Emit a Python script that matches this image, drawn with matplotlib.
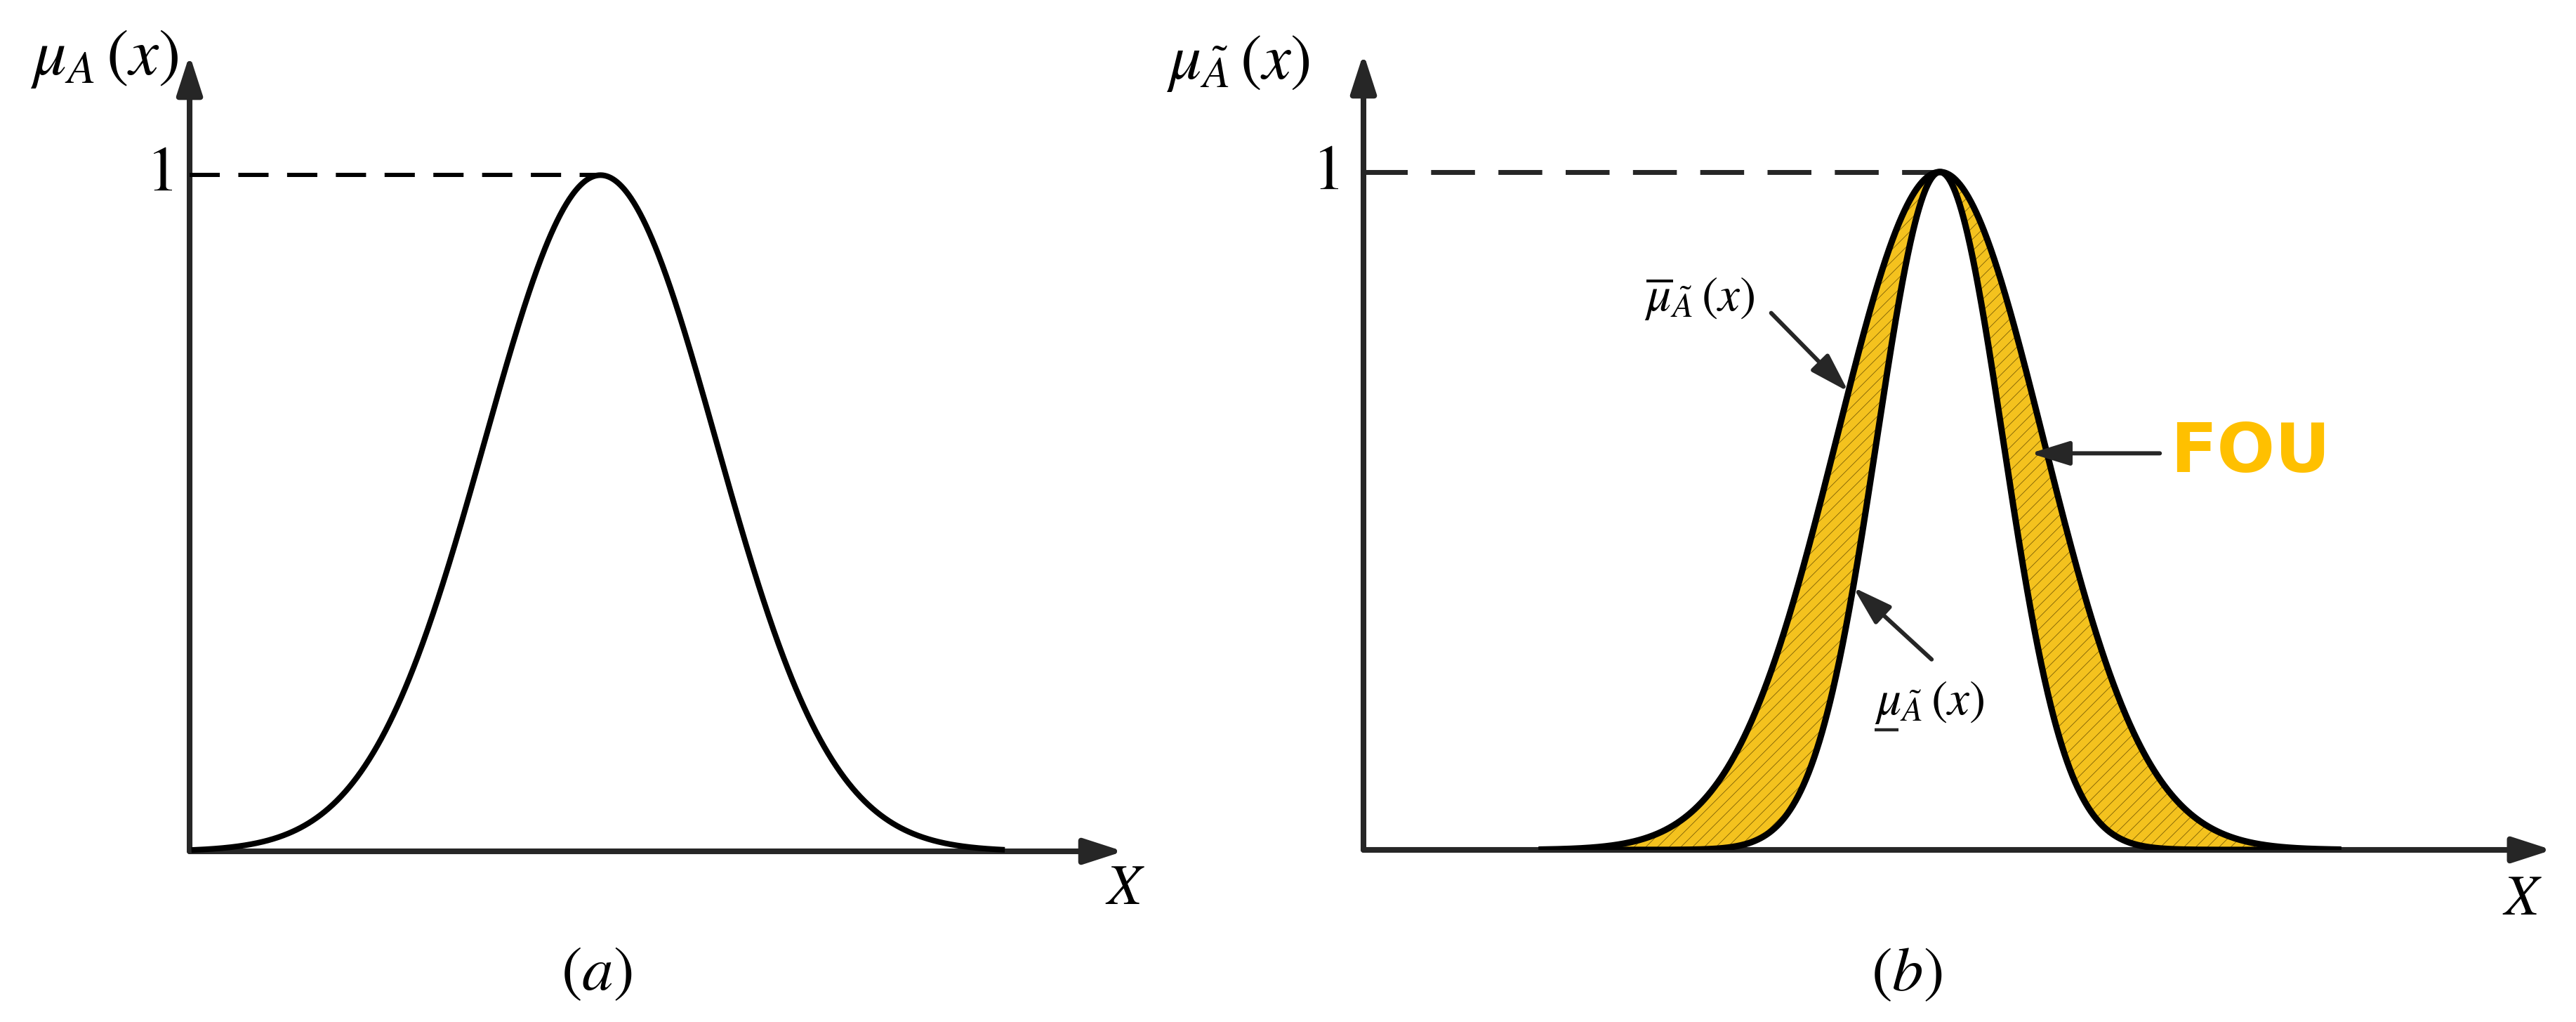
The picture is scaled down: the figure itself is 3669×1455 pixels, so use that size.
import numpy as np
import matplotlib
matplotlib.use('Agg')
import matplotlib.pyplot as plt

plt.rcParams['mathtext.fontset'] = 'stix'
plt.rcParams['font.family'] = ['STIXGeneral', 'DejaVu Sans']
plt.rcParams['lines.scale_dashes'] = False
plt.rcParams['hatch.linewidth'] = 0.6

# ---------------------------------------------------------------
# Gaussian membership functions (x axis 0..10)
# ---------------------------------------------------------------
# (a) type-1 fuzzy set
t1_center = 4.40
t1_sigma = 1.24
t1_range = [0.05, 8.7]

# (b) interval type-2 fuzzy set: upper and lower MF share the centre
t2_center = 4.85
t2_sigma_upper = 0.87
t2_sigma_lower = 0.53
t2_range = [1.5, 8.2]

# where the annotation arrows touch the curves (x positions)
upper_arrow_x = 4.08
lower_arrow_x = 4.12
fou_arrow_x = 5.61

panel_titles = ['$(a)$', '$(b)$']
ylabels = [r'$\mu_A\,(x)$', r'$\mu_{\tilde{A}}\,(x)$']

axis_col = '#262626'
fou_col = '#F4C21E'
hatch_col = '#7d5f05'


def gauss_mf(x, c, s):
    return np.exp(-0.5 * ((x - c) / s) ** 2)


def axis_arrows(ax, lw):
    style = '-|>,head_length=3.4,head_width=1.1'
    ax.annotate('', xy=(1, 0), xytext=(0, 0), xycoords='axes fraction',
                arrowprops=dict(arrowstyle=style, color=axis_col, lw=lw,
                                shrinkA=0, shrinkB=0, mutation_scale=10), zorder=2)
    ax.annotate('', xy=(0, 1), xytext=(0, 0), xycoords='axes fraction',
                arrowprops=dict(arrowstyle=style, color=axis_col, lw=lw,
                                shrinkA=0, shrinkB=0, mutation_scale=10), zorder=2)


fig = plt.figure(figsize=(36.69, 14.55), dpi=100)
ax1 = fig.add_axes([0.0736, 0.167, 0.3625, 0.7794])
ax2 = fig.add_axes([0.5293, 0.1684, 0.4614, 0.7794])

for ax, top in [(ax1, 1.178), (ax2, 1.175)]:
    ax.set_xlim(0, 10)
    ax.set_ylim(0, top)
    ax.axis('off')

# ---------------- (a) ----------------
x1 = np.linspace(t1_range[0], t1_range[1], 800)
y1 = gauss_mf(x1, t1_center, t1_sigma)
axis_arrows(ax1, 5.8)
ax1.plot([0, t1_center], [1, 1], color='black', lw=4.3, dashes=(31, 19), zorder=3)
ax1.plot(x1, y1, color='black', lw=5.8, zorder=4, clip_on=False)
ax1.text(-0.29, 1.0, '1', ha='center', va='center', fontsize=66)
ax1.text(-0.12, 1.172, ylabels[0], ha='right', va='center', fontsize=68)
ax1.text(10.02, -0.058, '$X$', ha='center', va='center', fontsize=58, clip_on=False)
ax1.text(4.36, -0.183, panel_titles[0], ha='center', va='center', fontsize=64)

# ---------------- (b) ----------------
x2 = np.linspace(t2_range[0], t2_range[1], 1200)
upper = gauss_mf(x2, t2_center, t2_sigma_upper)
lower = gauss_mf(x2, t2_center, t2_sigma_lower)
axis_arrows(ax2, 5.8)
ax2.plot([0, t2_center], [1, 1], color=axis_col, lw=5, dashes=(45, 24), zorder=3)
ax2.fill_between(x2, lower, upper, facecolor=fou_col, edgecolor=hatch_col,
                 hatch='//', linewidth=0, zorder=3)
ax2.plot(x2, upper, color='black', lw=6.5, zorder=4)
ax2.plot(x2, lower, color='black', lw=6.5, zorder=4)

ax2.text(-0.29, 0.997, '1', ha='center', va='center', fontsize=66)
ax2.text(-0.45, 1.16, ylabels[1], ha='right', va='center', fontsize=66)
ax2.text(9.75, -0.076, '$X$', ha='center', va='center', fontsize=58, clip_on=False)
ax2.text(4.57, -0.185, panel_titles[1], ha='center', va='center', fontsize=64)

arrow_kw = dict(arrowstyle='-|>,head_length=3.4,head_width=1.05', color=axis_col,
                lw=4.3, shrinkA=0, shrinkB=0, mutation_scale=10)

# upper MF label
y_up = gauss_mf(upper_arrow_x, t2_center, t2_sigma_upper)
ax2.annotate('', xy=(upper_arrow_x, y_up), xytext=(3.43, 0.792), arrowprops=arrow_kw, zorder=5)
ax2.text(2.36, 0.813, r'$\overline{\mu}_{\tilde{A}}\,(x)$', ha='left', va='center', fontsize=50)

# lower MF label, the underline is drawn as a short stroke under the mu
y_lo = gauss_mf(lower_arrow_x, t2_center, t2_sigma_lower)
ax2.annotate('', xy=(lower_arrow_x, y_lo), xytext=(4.78, 0.281), arrowprops=arrow_kw, zorder=5)
ax2.text(4.30, 0.218, r'$\mu_{\tilde{A}}\,(x)$', ha='left', va='center', fontsize=50)
ax2.plot([4.30, 4.50], [0.177, 0.177], color=axis_col, lw=3.2, solid_capstyle='butt')

# FOU
ax2.annotate('', xy=(fou_arrow_x, 0.585), xytext=(6.70, 0.585), arrowprops=arrow_kw, zorder=5)
ax2.text(6.79, 0.585, 'FOU', color='#FFC000', fontsize=70, fontweight='bold',
         family='DejaVu Sans', ha='left', va='center')

fig.savefig('out.png', dpi=100)
